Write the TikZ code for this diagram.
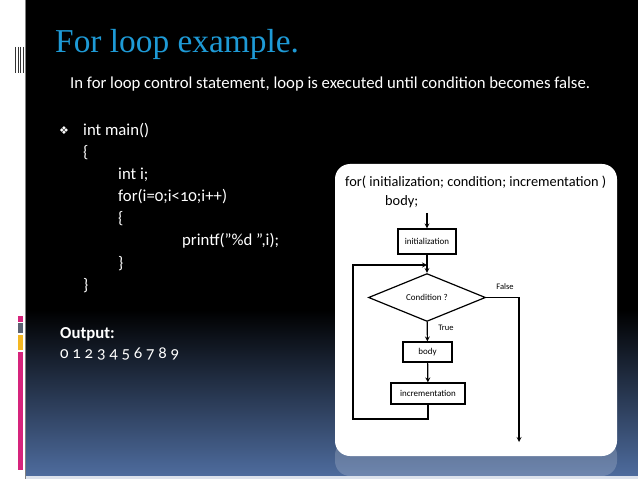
\documentclass[tikz,border=0pt]{standalone}
\usepackage{fontspec}
\setmainfont{Carlito}[Numbers=OldStyle]
\newfontfamily\titlefont{Liberation Serif}
\newfontfamily\symfont{DejaVu Sans}
\usetikzlibrary{shapes.geometric}
\definecolor{titleblue}{HTML}{1E9AD6}
\definecolor{slideblue}{HTML}{4E6C9E}
\definecolor{barpink}{HTML}{D6247C}
\definecolor{bargray}{HTML}{5A6272}
\definecolor{baryellow}{HTML}{F4B722}
\tikzset{
  flowbox/.style={draw, line width=1.2bp, fill=white, inner sep=0pt, font=\fontsize{9}{10}\selectfont},
  decision/.style={draw, diamond, line width=1.2bp, inner sep=0pt, minimum width=117bp, minimum height=39bp, font=\fontsize{9}{10}\selectfont},
  flowline/.style={line width=1.2bp},
  codetext/.style={text=white, anchor=base west, inner sep=0pt, font=\fontsize{16.8}{20}\selectfont},
  flowtext/.style={anchor=base west, inner sep=0pt, font=\fontsize{14.4}{17}\selectfont},
  smalltext/.style={inner sep=0pt, font=\fontsize{8.5}{10}\selectfont}
}
\begin{document}
\begin{tikzpicture}[x=1bp,y=-1bp,>=stealth]
   \useasboundingbox (0,0) rectangle (638,479);
   % slide background
   \fill[white] (0,0) rectangle (638,479);
   \fill[black] (26,0) rectangle (638,310);
   \shade[top color=black, bottom color=slideblue] (26,310) rectangle (638,476);
   \fill[white!80!slideblue] (26,476) rectangle (638,479);
   \draw[gray, line width=1bp] (25.5,0) -- (25.5,479);
   \foreach \sx in {15.5,18,20.5,23}
     \draw[black!80, line width=0.8bp] (\sx,47) -- (\sx,73);
   \fill[barpink] (18,316) rectangle (23,322);
   \fill[bargray] (18,323) rectangle (23,333);
   \fill[baryellow] (18,335) rectangle (23,350);
   \fill[barpink] (18,352) rectangle (23,470);

   % title and text
   \node[anchor=base west, inner sep=0pt, text=titleblue, font=\titlefont\fontsize{33.5}{36}\selectfont] (title) at (55,53) {For loop example.};
   \node[codetext] (intro) at (70,89) {In for loop control statement, loop is executed until condition becomes false.};
   \node[text=white, inner sep=0pt, font=\symfont\fontsize{11}{12}\selectfont] (bullet) at (64,131) {❖};
   \node[codetext] (lmain) at (83,136) {int main()};
   \node[codetext] (lopen) at (83,158) {\{};
   \node[codetext] (ldecl) at (118,180) {int i;};
   \node[codetext] (lfor) at (118,202) {for(i=0;i<10;i++)};
   \node[codetext] (lfopen) at (118,224) {\{};
   \node[codetext] (lprint) at (182,246) {printf("\%d ",i);};
   \node[codetext] (lfclose) at (118,268) {\}};
   \node[codetext] (lclose) at (83,290) {\}};
   \node[codetext, font=\bfseries\fontsize{16.8}{20}\selectfont] (outlabel) at (60,338) {Output:};
   \node[codetext] (outdigits) at (60,358) {0 1 2 3 4 5 6 7 8 9};

   % flowchart panel
   \fill[white, opacity=0.18, rounded corners=15bp] (335,440) rectangle (617,476);
   \fill[white, rounded corners=15bp] (335,164) rectangle (617,456);
   \node[flowtext] (header) at (345,187) {for( initialization; condition; incrementation )};
   \node[flowtext] (bodyline) at (385,206) {body;};

   \node[flowbox, minimum width=58bp, minimum height=25bp] (init) at (427,241.5) {initialization};
   \node[decision] (cond) at (427,297.5) {Condition ?};
   \node[flowbox, minimum width=49bp, minimum height=20bp] (body) at (427.5,352) {body};
   \node[flowbox, minimum width=74bp, minimum height=21bp] (incr) at (428,393.5) {incrementation};
   \node[smalltext] (truelbl) at (446,328) {True};
   \node[smalltext] (falselbl) at (505,287) {False};

   \coordinate (start) at (427,213);
   \coordinate (join) at (427,265);
   \coordinate (loopa) at (428,419);
   \coordinate (loopb) at (353,419);
   \coordinate (loopc) at (353,265);
   \coordinate (falsea) at (519,297.5);
   \coordinate (falseb) at (519,442);

   \draw[flowline,->] (start) -- (init);
   \draw[flowline,->] (init) -- (cond);
   \draw[flowline,->] (cond) -- (body);
   \draw[flowline,->] (body) -- (incr);
   \draw[flowline,->] (incr.south) -- (loopa) -- (loopb) -- (loopc) -- (join);
   \draw[flowline,->] (cond.east) -- (falsea) -- (falseb);
\end{tikzpicture}
\end{document}
